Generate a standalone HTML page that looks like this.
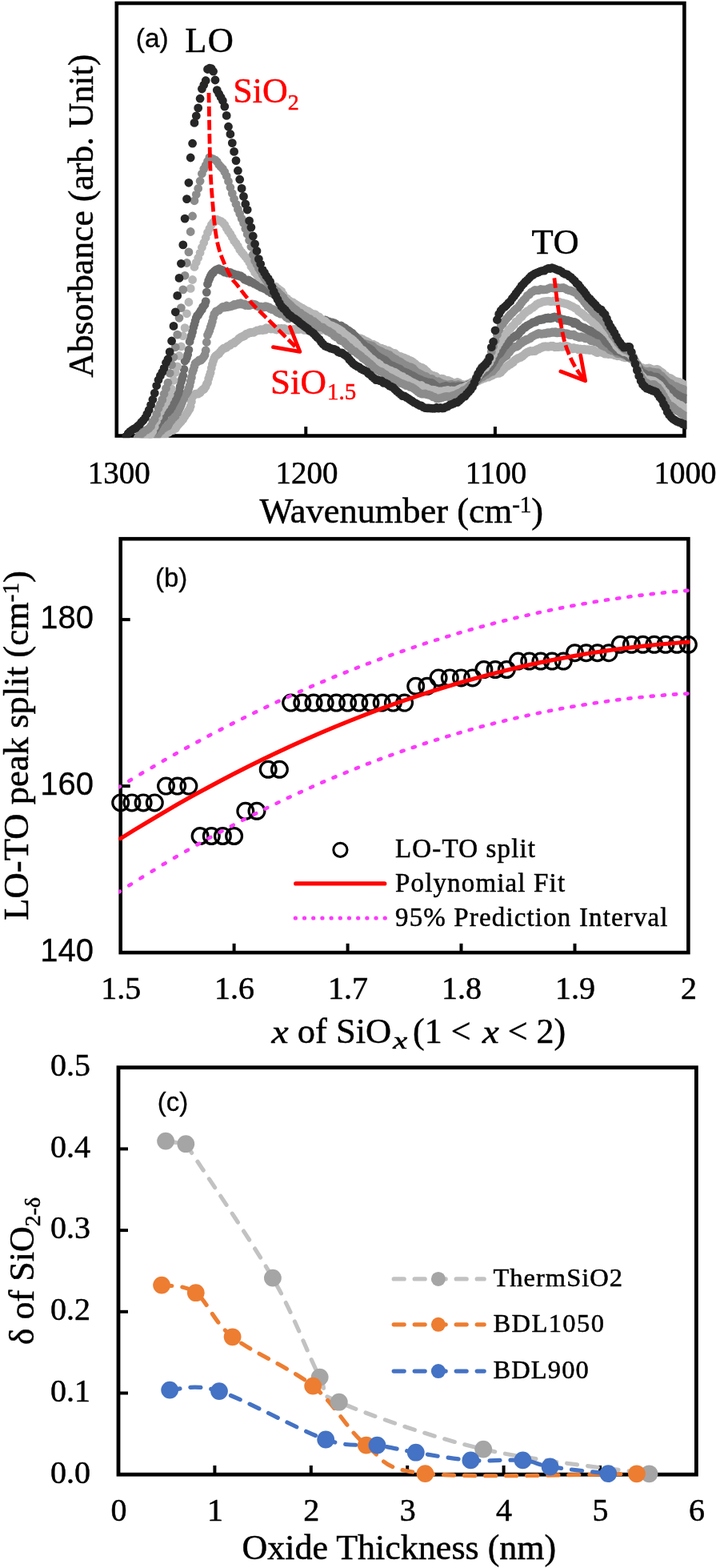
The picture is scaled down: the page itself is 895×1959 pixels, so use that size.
<!DOCTYPE html>
<html lang="en"><head><meta charset="utf-8"><title>FTIR LO-TO analysis of SiOx</title>
<style>html,body{margin:0;padding:0;background:#fff}svg{display:block}text{stroke:#000;stroke-width:.5px;paint-order:stroke fill}text.r{stroke:#f00}text.s{stroke-width:.3px}</style></head><body>
<svg width="895" height="1959" viewBox="0 0 895 1959">
<rect width="895" height="1959" fill="#fff"/>
<g id="panel-a">
<rect x="145.8" y="4.0" width="709.6" height="540.5" fill="none" stroke="#000" stroke-width="4.6"/>
<line x1="382.3" y1="544.5" x2="382.3" y2="533.0" stroke="#000" stroke-width="4"/>
<line x1="618.9" y1="544.5" x2="618.9" y2="533.0" stroke="#000" stroke-width="4"/>
<clipPath id="clipA"><rect x="140" y="0" width="718.6" height="547.2"/></clipPath>
<g clip-path="url(#clipA)" fill="none" stroke-linecap="round" stroke-width="10.8">
<path d="M198 547.9h0M199.2 545.8h0M200.4 544.6h0M201.6 545h0M202.8 544.3h0M203.9 543.6h0M205.1 544.5h0M206.3 543.2h0M207.5 542.4h0M208.7 541.1h0M209.9 540.6h0M211 540.2h0M212.2 539.2h0M213.4 538.1h0M214.6 537.6h0M215.8 537.6h0M217 536.1h0M218.1 535.7h0M219.3 535.5h0M220.5 533.5h0M221.7 531.6h0M222.9 530.4h0M224 528.9h0M225.2 527.9h0M226.4 526.7h0M227.6 525h0M228.8 523.9h0M230 521.5h0M231.1 520.3h0M232.3 518.1h0M233.5 516.6h0M234.7 514.6h0M235.9 512.5h0M237.1 510.9h0M238.2 507.5h0M239.4 501.8h0M240.6 495.9h0M241.8 494.1h0M243 493.3h0M244.1 492.2h0M245.3 492.1h0M246.5 491.8h0M247.7 492.1h0M248.9 491.5h0M250.1 490.7h0M251.2 488.8h0M252.4 487.9h0M253.6 486.5h0M254.8 486.5h0M256 484.5h0M257.2 482.9h0M258.3 479.7h0M259.5 478.1h0M260.7 473.1h0M261.9 469.3h0M263.1 465.6h0M264.3 459.7h0M265.4 455h0M266.6 451h0M267.8 447.5h0M269 445.3h0M270.2 444.1h0M271.3 443.6h0M272.5 442.3h0M273.7 442h0M274.9 440h0M276.1 438.7h0M277.3 437.1h0M278.4 436.3h0M279.6 435.1h0M280.8 435.3h0M282 434.4h0M283.2 434.3h0M284.4 432.6h0M285.5 432.4h0M286.7 431.6h0M287.9 431.1h0M289.1 429.7h0M290.3 429.2h0M291.4 428.6h0M292.6 428.6h0M293.8 426.8h0M295 426.4h0M296.2 425.5h0M297.4 424.5h0M298.5 423h0M299.7 422.5h0M300.9 421.4h0M302.1 420.6h0M303.3 420.6h0M304.5 419.5h0M305.6 419.8h0M306.8 418.3h0M308 417.1h0M309.2 417.1h0M310.4 416.3h0M311.6 415.7h0M312.7 415.9h0M313.9 415.2h0M315.1 415.4h0M316.3 415.4h0M317.5 415.3h0M318.6 414.1h0M319.8 413.8h0M321 413h0M322.2 412.9h0M323.4 412.9h0M324.6 412.2h0M325.7 411.7h0M326.9 412.2h0M328.1 412.6h0M329.3 411.5h0M330.5 411.6h0M331.7 412.1h0M332.8 409.7h0M334 410.8h0M335.2 410.4h0M336.4 410.3h0M337.6 409.7h0M338.7 411h0M339.9 410h0M341.1 410.9h0M342.3 410.9h0M343.5 410.9h0M344.7 411.7h0M345.8 412h0M347 411.1h0M348.2 410.5h0M349.4 410.9h0M350.6 410.6h0M351.8 410.4h0M352.9 410.7h0M354.1 411.9h0M355.3 410.3h0M356.5 411.9h0M357.7 411.6h0M358.9 412.4h0M360 412h0M361.2 412.8h0M362.4 412.2h0M363.6 412.4h0M364.8 412.8h0M365.9 412.1h0M367.1 411.3h0M368.3 412h0M369.5 411.1h0M370.7 410.8h0M371.9 411.4h0M373 411.7h0M374.2 410.8h0M375.4 411h0M376.6 410.8h0M377.8 410.9h0M379 411.8h0M380.1 412.4h0M381.3 412.2h0M382.5 412.3h0M383.7 412.6h0M384.9 411.9h0M386 412h0M387.2 411.8h0M388.4 412.2h0M389.6 412h0M390.8 412.2h0M392 411.9h0M393.1 412.3h0M394.3 412.9h0M395.5 412.3h0M396.7 413.2h0M397.9 413.7h0M399.1 413.3h0M400.2 412.7h0M401.4 412.2h0M402.6 412.3h0M403.8 411.3h0M405 411.7h0M406.2 411.8h0M407.3 412.5h0M408.5 412.6h0M409.7 414.2h0M410.9 414.5h0M412.1 414h0M413.2 416h0M414.4 415.2h0M415.6 415.5h0M416.8 416h0M418 415.6h0M419.2 416h0M420.3 415.9h0M421.5 415.6h0M422.7 416.6h0M423.9 416.8h0M425.1 417h0M426.3 417.6h0M427.4 417.4h0M428.6 417.4h0M429.8 417.9h0M431 418.7h0M432.2 418.1h0M433.3 417.4h0M434.5 418.5h0M435.7 418.9h0M436.9 418.6h0M438.1 420.3h0M439.3 419.8h0M440.4 420.3h0M441.6 420.7h0M442.8 421.3h0M444 421.4h0M445.2 421.9h0M446.4 421.9h0M447.5 422.3h0M448.7 422.5h0M449.9 422.8h0M451.1 422.8h0M452.3 424.2h0M453.5 424h0M454.6 424.8h0M455.8 425.3h0M457 426.6h0M458.2 426.3h0M459.4 427.3h0M460.5 427.6h0M461.7 428.5h0M462.9 429.7h0M464.1 430.2h0M465.3 430.7h0M466.5 430.1h0M467.6 431.4h0M468.8 431.5h0M470 431.9h0M471.2 432.8h0M472.4 433.6h0M473.6 434.4h0M474.7 435.3h0M475.9 436h0M477.1 435.2h0M478.3 436.2h0M479.5 436.9h0M480.6 436.5h0M481.8 437.9h0M483 437.9h0M484.2 438.5h0M485.4 437.9h0M486.6 438.6h0M487.7 439.4h0M488.9 440.7h0M490.1 440.6h0M491.3 441.5h0M492.5 441.6h0M493.7 441.5h0M494.8 442.8h0M496 443.5h0M497.2 444.9h0M498.4 445.5h0M499.6 445.9h0M500.8 445.3h0M501.9 446h0M503.1 446.3h0M504.3 446.8h0M505.5 447.1h0M506.7 448.5h0M507.8 448.8h0M509 448.6h0M510.2 449.3h0M511.4 450.4h0M512.6 450.4h0M513.8 450.9h0M514.9 451.5h0M516.1 452.4h0M517.3 453.9h0M518.5 454.1h0M519.7 455.3h0M520.9 456.3h0M522 457.7h0M523.2 457.6h0M524.4 458.4h0M525.6 459.1h0M526.8 459.6h0M527.9 459.5h0M529.1 460.6h0M530.3 461h0M531.5 462.3h0M532.7 463.7h0M533.9 464.2h0M535 465.8h0M536.2 466.9h0M537.4 467.5h0M538.6 468.8h0M539.8 468.9h0M541 469.8h0M542.1 469.5h0M543.3 469.8h0M544.5 470.1h0M545.7 471.2h0M546.9 472.3h0M548.1 472.9h0M549.2 473.9h0M550.4 473.7h0M551.6 473.2h0M552.8 473.1h0M554 473.5h0M555.1 474.1h0M556.3 475.1h0M557.5 475.1h0M558.7 475.5h0M559.9 475.5h0M561.1 475.7h0M562.2 477.1h0M563.4 476.7h0M564.6 477.8h0M565.8 478h0M567 478.7h0M568.2 479.4h0M569.3 478.3h0M570.5 478.3h0M571.7 477.5h0M572.9 477.8h0M574.1 478.5h0M575.2 479.4h0M576.4 480h0M577.6 480.5h0M578.8 480.5h0M580 481.3h0M581.2 480.8h0M582.3 480.8h0M583.5 480.7h0M584.7 479.6h0M585.9 479.9h0M587.1 478.9h0M588.3 478.5h0M589.4 477.5h0M590.6 477.3h0M591.8 477.4h0M593 477.4h0M594.2 477.1h0M595.4 476.2h0M596.5 476.4h0M597.7 475.9h0M598.9 474.1h0M600.1 474h0M601.3 474.3h0M602.4 473.6h0M603.6 472.9h0M604.8 472.8h0M606 472.4h0M607.2 471.4h0M608.4 470.8h0M609.5 470.1h0M610.7 471.1h0M611.9 469.4h0M613.1 469.9h0M614.3 469h0M615.5 468.9h0M616.6 467.9h0M617.8 466.5h0M619 467.3h0M620.2 466.3h0M621.4 466h0M622.5 466h0M623.7 466.4h0M624.9 465h0M626.1 465.3h0M627.3 463.1h0M628.5 462.5h0M629.6 460.8h0M630.8 460.1h0M632 458.8h0M633.2 458h0M634.4 457.4h0M635.6 456.2h0M636.7 455.5h0M637.9 455.2h0M639.1 454.1h0M640.3 452.9h0M641.5 452.8h0M642.7 450.7h0M643.8 449.7h0M645 449h0M646.2 448.4h0M647.4 447.3h0M648.6 447.1h0M649.7 446.6h0M650.9 446.5h0M652.1 445.2h0M653.3 445h0M654.5 443.7h0M655.7 442.7h0M656.8 441.6h0M658 440.7h0M659.2 440h0M660.4 439.8h0M661.6 438.9h0M662.8 438.5h0M663.9 438.7h0M665.1 438.9h0M666.3 438.3h0M667.5 438.2h0M668.7 438.6h0M669.8 438h0M671 436.7h0M672.2 436.1h0M673.4 436.2h0M674.6 435.2h0M675.8 434.3h0M676.9 434.5h0M678.1 433.9h0M679.3 432.9h0M680.5 433.2h0M681.7 432.6h0M682.9 433.1h0M684 433h0M685.2 433.4h0M686.4 433h0M687.6 432.9h0M688.8 432.1h0M690 432.9h0M691.1 432.2h0M692.3 432.6h0M693.5 433.8h0M694.7 433.3h0M695.9 433.5h0M697 433.5h0M698.2 433.7h0M699.4 432.8h0M700.6 432.6h0M701.8 433.3h0M703 433.3h0M704.1 433.2h0M705.3 432.3h0M706.5 432.3h0M707.7 432.5h0M708.9 432.7h0M710.1 432.8h0M711.2 434.6h0M712.4 435.2h0M713.6 435.4h0M714.8 435h0M716 435.9h0M717.1 434.3h0M718.3 435.3h0M719.5 435.2h0M720.7 435.3h0M721.9 435.4h0M723.1 436.9h0M724.2 436.2h0M725.4 435.9h0M726.6 436.3h0M727.8 436.9h0M729 436.4h0M730.2 436.2h0M731.3 436.8h0M732.5 437.1h0M733.7 436.6h0M734.9 437.1h0M736.1 436.6h0M737.3 437.7h0M738.4 437.4h0M739.6 437.2h0M740.8 437.5h0M742 437.5h0M743.2 438.9h0M744.3 439.3h0M745.5 440.1h0M746.7 440.7h0M747.9 439.6h0M749.1 439.9h0M750.3 439.3h0M751.4 439.2h0M752.6 440.5h0M753.8 440.8h0M755 441.1h0M756.2 442.1h0M757.4 441.8h0M758.5 441.7h0M759.7 441.9h0M760.9 442.6h0M762.1 441.8h0M763.3 441.8h0M764.4 442.6h0M765.6 442h0M766.8 443h0M768 443.8h0M769.2 443.9h0M770.4 444.1h0M771.5 444.8h0M772.7 444h0M773.9 444.4h0M775.1 444.6h0M776.3 445.1h0M777.5 445.3h0M778.6 446.2h0M779.8 446.3h0M781 446.8h0M782.2 446.9h0M783.4 446.3h0M784.6 446h0M785.7 445.9h0M786.9 445.8h0M788.1 448.1h0M789.3 448h0M790.5 448.6h0M791.6 450h0M792.8 450.9h0M794 451.1h0M795.2 453.7h0M796.4 454.6h0M797.6 456h0M798.7 458.1h0M799.9 458.6h0M801.1 459.5h0M802.3 459.4h0M803.5 459.7h0M804.7 460.7h0M805.8 460.7h0M807 460.6h0M808.2 460.6h0M809.4 460.1h0M810.6 460.2h0M811.7 460h0M812.9 460.5h0M814.1 461h0M815.3 461.9h0M816.5 462.5h0M817.7 461.9h0M818.8 461.8h0M820 461.6h0M821.2 461.3h0M822.4 461.6h0M823.6 462.6h0M824.8 463.5h0M825.9 464.6h0M827.1 465h0M828.3 465.9h0M829.5 467.7h0M830.7 468.7h0M831.9 469.1h0M833 470.2h0M834.2 471.3h0M835.4 472.1h0M836.6 472.9h0M837.8 472.3h0M838.9 473h0M840.1 473.9h0M841.3 475h0M842.5 475.3h0M843.7 476.5h0M844.9 476.5h0M846 476.8h0M847.2 476.8h0M848.4 477.6h0M849.6 477.4h0M850.8 478.7h0M852 478.5h0M853.1 479.9h0M854.3 480.4h0M855.5 481.3h0M856.7 480.9h0M857.9 481.5h0" stroke="#b1b1b1"/>
<path d="M190.9 548.5h0M192.1 547.3h0M193.3 546.3h0M194.5 546h0M195.7 544.4h0M196.8 543.6h0M198 541.4h0M199.2 539.6h0M200.4 538.9h0M201.6 538.3h0M202.8 536.6h0M203.9 534.6h0M205.1 534.9h0M206.3 534.1h0M207.5 533.4h0M208.7 532.7h0M209.9 532.3h0M211 529.8h0M212.2 527.6h0M213.4 526.3h0M214.6 524.7h0M215.8 522.4h0M217 522h0M218.1 520.8h0M219.3 519.6h0M220.5 516.9h0M221.7 516h0M222.9 513.3h0M224 511.3h0M225.2 508.7h0M226.4 505.9h0M227.6 502.6h0M228.8 499.8h0M230 497.5h0M231.1 494.6h0M232.3 492.7h0M233.5 490.9h0M234.7 488.7h0M235.9 485.2h0M237.1 481.6h0M238.2 476.6h0M239.4 471.4h0M240.6 465.1h0M241.8 461.8h0M243 457.5h0M244.1 454h0M245.3 453h0M246.5 452.2h0M247.7 451.2h0M248.9 450h0M250.1 450.5h0M251.2 450h0M252.4 448.6h0M253.6 447.2h0M254.8 445.6h0M256 443.4h0M257.2 437.9h0M258.3 427.5h0M259.5 418.6h0M260.7 415.7h0M261.9 413h0M263.1 408.9h0M264.3 405.6h0M265.4 401.8h0M266.6 396.5h0M267.8 392.2h0M269 391h0M270.2 388.9h0M271.3 388.3h0M272.5 388h0M273.7 387.6h0M274.9 386.2h0M276.1 385.2h0M277.3 384.6h0M278.4 383.3h0M279.6 383.4h0M280.8 384.2h0M282 382.7h0M283.2 382h0M284.4 383.6h0M285.5 383.4h0M286.7 383.1h0M287.9 382.7h0M289.1 382.7h0M290.3 382.2h0M291.4 381.2h0M292.6 380.5h0M293.8 381.3h0M295 380.8h0M296.2 380h0M297.4 379.5h0M298.5 380h0M299.7 379.1h0M300.9 378.7h0M302.1 380h0M303.3 380.2h0M304.5 380.5h0M305.6 379.9h0M306.8 381.5h0M308 381.4h0M309.2 381.5h0M310.4 381.3h0M311.6 381.6h0M312.7 381.3h0M313.9 380.3h0M315.1 380h0M316.3 380.1h0M317.5 380.7h0M318.6 380.5h0M319.8 381h0M321 382.3h0M322.2 382.6h0M323.4 383.1h0M324.6 383.1h0M325.7 383.2h0M326.9 383.2h0M328.1 383.7h0M329.3 384h0M330.5 383.6h0M331.7 382.7h0M332.8 383.7h0M334 383.1h0M335.2 383.7h0M336.4 383.9h0M337.6 385.7h0M338.7 385.7h0M339.9 386.7h0M341.1 386.3h0M342.3 387.2h0M343.5 387.6h0M344.7 388.6h0M345.8 389.8h0M347 390.5h0M348.2 390.8h0M349.4 391.2h0M350.6 392.1h0M351.8 392.1h0M352.9 392.3h0M354.1 392.2h0M355.3 393.3h0M356.5 394.6h0M357.7 396.2h0M358.9 396.8h0M360 397.7h0M361.2 398h0M362.4 396.7h0M363.6 396.8h0M364.8 396.6h0M365.9 396.4h0M367.1 397.1h0M368.3 398.3h0M369.5 398.8h0M370.7 400.2h0M371.9 400.9h0M373 401.4h0M374.2 401.2h0M375.4 401.5h0M376.6 401.2h0M377.8 402.3h0M379 402.7h0M380.1 402.5h0M381.3 403.7h0M382.5 402.7h0M383.7 403.8h0M384.9 403.5h0M386 405.5h0M387.2 403.2h0M388.4 403.6h0M389.6 404h0M390.8 404.9h0M392 405.1h0M393.1 405.9h0M394.3 407.1h0M395.5 408.3h0M396.7 408.2h0M397.9 408.5h0M399.1 408.7h0M400.2 407.5h0M401.4 408.6h0M402.6 408.9h0M403.8 409.3h0M405 410h0M406.2 410.4h0M407.3 409.9h0M408.5 410.2h0M409.7 410.9h0M410.9 410.9h0M412.1 410.7h0M413.2 412.7h0M414.4 412.9h0M415.6 413.2h0M416.8 413.1h0M418 413.6h0M419.2 413.7h0M420.3 413.6h0M421.5 413.9h0M422.7 413.9h0M423.9 415.5h0M425.1 415.4h0M426.3 416.1h0M427.4 417.2h0M428.6 418.1h0M429.8 418.4h0M431 419.1h0M432.2 420.7h0M433.3 420.5h0M434.5 420.5h0M435.7 421.5h0M436.9 421.2h0M438.1 422.3h0M439.3 422.9h0M440.4 422.6h0M441.6 423.4h0M442.8 423.6h0M444 424.5h0M445.2 424.7h0M446.4 425.3h0M447.5 425.2h0M448.7 426h0M449.9 426.9h0M451.1 427.2h0M452.3 428.4h0M453.5 428.9h0M454.6 429h0M455.8 429.7h0M457 429.9h0M458.2 430.2h0M459.4 430.3h0M460.5 430.9h0M461.7 431.1h0M462.9 431.3h0M464.1 431.8h0M465.3 432.1h0M466.5 433.2h0M467.6 434.6h0M468.8 436.1h0M470 435.9h0M471.2 437.3h0M472.4 437.1h0M473.6 437.8h0M474.7 438.4h0M475.9 438.7h0M477.1 439.4h0M478.3 440.4h0M479.5 440.8h0M480.6 442h0M481.8 442.5h0M483 442h0M484.2 443.3h0M485.4 444h0M486.6 443.4h0M487.7 445h0M488.9 445.6h0M490.1 446.2h0M491.3 447.7h0M492.5 448h0M493.7 448.5h0M494.8 448.9h0M496 450.2h0M497.2 450.9h0M498.4 451.6h0M499.6 451.7h0M500.8 452.4h0M501.9 453.3h0M503.1 454.3h0M504.3 454.8h0M505.5 455.9h0M506.7 456.6h0M507.8 456.6h0M509 457.7h0M510.2 458.3h0M511.4 458.6h0M512.6 458.6h0M513.8 458.9h0M514.9 459.6h0M516.1 460.1h0M517.3 461.6h0M518.5 462.7h0M519.7 464.1h0M520.9 465.2h0M522 465.7h0M523.2 466.1h0M524.4 467.1h0M525.6 467.4h0M526.8 468.2h0M527.9 468.7h0M529.1 469.8h0M530.3 469.9h0M531.5 470.2h0M532.7 470.5h0M533.9 472.1h0M535 472.3h0M536.2 473h0M537.4 473.5h0M538.6 473.5h0M539.8 473.3h0M541 474.8h0M542.1 475.5h0M543.3 475.8h0M544.5 476.4h0M545.7 477h0M546.9 477.1h0M548.1 476.7h0M549.2 477.8h0M550.4 478h0M551.6 478.9h0M552.8 479.2h0M554 480.2h0M555.1 480h0M556.3 480.1h0M557.5 480.9h0M558.7 481h0M559.9 480.8h0M561.1 481h0M562.2 480.6h0M563.4 480.9h0M564.6 480.2h0M565.8 480.9h0M567 480.8h0M568.2 481.1h0M569.3 481.1h0M570.5 481.9h0M571.7 481.1h0M572.9 480.4h0M574.1 480.8h0M575.2 481.7h0M576.4 481.8h0M577.6 483.2h0M578.8 484h0M580 483.5h0M581.2 482.7h0M582.3 482.2h0M583.5 482h0M584.7 481.7h0M585.9 481h0M587.1 481.2h0M588.3 481.1h0M589.4 480.3h0M590.6 479.6h0M591.8 479.7h0M593 478.2h0M594.2 477.6h0M595.4 475.8h0M596.5 475.2h0M597.7 473.5h0M598.9 473.1h0M600.1 472.1h0M601.3 471.6h0M602.4 471.2h0M603.6 470.7h0M604.8 469.2h0M606 468.8h0M607.2 468.2h0M608.4 467.9h0M609.5 467.1h0M610.7 466h0M611.9 465.7h0M613.1 465h0M614.3 464.3h0M615.5 464.2h0M616.6 462.7h0M617.8 461.3h0M619 460h0M620.2 458.8h0M621.4 456.2h0M622.5 454.6h0M623.7 453.1h0M624.9 451.3h0M626.1 449.9h0M627.3 448.6h0M628.5 448h0M629.6 446.6h0M630.8 445.9h0M632 444.8h0M633.2 444.5h0M634.4 442.3h0M635.6 441h0M636.7 440h0M637.9 438.3h0M639.1 436.5h0M640.3 435.7h0M641.5 434.5h0M642.7 433.4h0M643.8 433.2h0M645 433.3h0M646.2 433h0M647.4 432.3h0M648.6 431.2h0M649.7 429.4h0M650.9 427.8h0M652.1 428.5h0M653.3 427.1h0M654.5 426h0M655.7 426.3h0M656.8 425.5h0M658 424.1h0M659.2 424.4h0M660.4 423.6h0M661.6 423.2h0M662.8 422.6h0M663.9 421.2h0M665.1 420.4h0M666.3 420h0M667.5 419.3h0M668.7 418.6h0M669.8 418.2h0M671 417.9h0M672.2 416.8h0M673.4 416.5h0M674.6 416.8h0M675.8 416.8h0M676.9 417.4h0M678.1 417.1h0M679.3 416.9h0M680.5 416.6h0M681.7 416.9h0M682.9 416.1h0M684 415.9h0M685.2 415.7h0M686.4 416.2h0M687.6 415.6h0M688.8 415.7h0M690 414.8h0M691.1 414.8h0M692.3 415.4h0M693.5 415h0M694.7 414.7h0M695.9 415.9h0M697 415.9h0M698.2 415.3h0M699.4 415.6h0M700.6 415h0M701.8 415.6h0M703 415.7h0M704.1 415.8h0M705.3 416.4h0M706.5 417.2h0M707.7 416.6h0M708.9 416.9h0M710.1 417.1h0M711.2 418.3h0M712.4 417.9h0M713.6 418.5h0M714.8 418.1h0M716 418.4h0M717.1 418h0M718.3 418.9h0M719.5 420.1h0M720.7 420.3h0M721.9 420.8h0M723.1 420.9h0M724.2 421.6h0M725.4 421.2h0M726.6 420.7h0M727.8 421.4h0M729 421.6h0M730.2 421.7h0M731.3 422.8h0M732.5 422.9h0M733.7 422.9h0M734.9 423h0M736.1 423.4h0M737.3 423.6h0M738.4 425.5h0M739.6 425.9h0M740.8 426.1h0M742 426h0M743.2 426.8h0M744.3 426h0M745.5 426.3h0M746.7 427.1h0M747.9 428.5h0M749.1 429.3h0M750.3 430h0M751.4 430.5h0M752.6 431.5h0M753.8 432h0M755 431.9h0M756.2 433.1h0M757.4 432.9h0M758.5 434h0M759.7 434.8h0M760.9 435.7h0M762.1 436.9h0M763.3 437h0M764.4 437.9h0M765.6 437.4h0M766.8 437.6h0M768 437.8h0M769.2 439.7h0M770.4 439.6h0M771.5 441.5h0M772.7 441.6h0M773.9 441.9h0M775.1 441.9h0M776.3 441.5h0M777.5 442.2h0M778.6 442.5h0M779.8 443.2h0M781 443.9h0M782.2 444h0M783.4 444.5h0M784.6 445.1h0M785.7 445.2h0M786.9 446.4h0M788.1 447.3h0M789.3 447.8h0M790.5 448.1h0M791.6 449.4h0M792.8 449.6h0M794 451.4h0M795.2 454.1h0M796.4 455.4h0M797.6 457.5h0M798.7 459.6h0M799.9 460.2h0M801.1 461.8h0M802.3 462.3h0M803.5 463.3h0M804.7 463.6h0M805.8 463.8h0M807 464.7h0M808.2 465.1h0M809.4 464.3h0M810.6 464.7h0M811.7 463.9h0M812.9 464.1h0M814.1 464.7h0M815.3 465h0M816.5 464.9h0M817.7 466h0M818.8 465.4h0M820 465.6h0M821.2 466.6h0M822.4 465.7h0M823.6 467.8h0M824.8 469.3h0M825.9 469.2h0M827.1 469.7h0M828.3 471.5h0M829.5 472.6h0M830.7 473.7h0M831.9 475.2h0M833 475.7h0M834.2 477.1h0M835.4 478h0M836.6 478.9h0M837.8 478.9h0M838.9 479.5h0M840.1 481h0M841.3 481.7h0M842.5 482.4h0M843.7 483h0M844.9 482.6h0M846 483.1h0M847.2 484.1h0M848.4 484.3h0M849.6 484.8h0M850.8 485.2h0M852 486h0M853.1 486.4h0M854.3 486.4h0M855.5 488.1h0M856.7 489.2h0M857.9 489.6h0" stroke="#8b8b8b"/>
<path d="M181.5 549.7h0M182.7 548h0M183.8 546.3h0M185 544.9h0M186.2 543h0M187.4 542.9h0M188.6 542.1h0M189.8 540.7h0M190.9 539.6h0M192.1 538.5h0M193.3 536.4h0M194.5 535.2h0M195.7 532h0M196.8 531.2h0M198 528.6h0M199.2 526.1h0M200.4 525.4h0M201.6 524.9h0M202.8 523.3h0M203.9 522.2h0M205.1 520.7h0M206.3 518.3h0M207.5 516.6h0M208.7 515.8h0M209.9 515h0M211 512.8h0M212.2 512.4h0M213.4 510.2h0M214.6 508.8h0M215.8 505.9h0M217 504h0M218.1 502h0M219.3 499.5h0M220.5 497.3h0M221.7 494h0M222.9 491.4h0M224 487.5h0M225.2 482.7h0M226.4 477.3h0M227.6 473.4h0M228.8 469.2h0M230 461.3h0M231.1 450.9h0M232.3 449.4h0M233.5 446.7h0M234.7 443.1h0M235.9 437.1h0M237.1 426.7h0M238.2 422.3h0M239.4 419h0M240.6 414.6h0M241.8 409h0M243 405.3h0M244.1 401.1h0M245.3 397.1h0M246.5 394.4h0M247.7 393.9h0M248.9 391.5h0M250.1 389.7h0M251.2 387.7h0M252.4 386.8h0M253.6 383.4h0M254.8 382.3h0M256 380.7h0M257.2 376.6h0M258.3 365.1h0M259.5 354.9h0M260.7 350.5h0M261.9 347.9h0M263.1 345h0M264.3 342.9h0M265.4 341.2h0M266.6 340.6h0M267.8 339h0M269 338h0M270.2 337.1h0M271.3 336.7h0M272.5 336.2h0M273.7 335.7h0M274.9 336.3h0M276.1 337.6h0M277.3 337.4h0M278.4 337.6h0M279.6 339.5h0M280.8 340.1h0M282 340h0M283.2 340.3h0M284.4 341.2h0M285.5 340.3h0M286.7 340.4h0M287.9 340.3h0M289.1 341.6h0M290.3 341.7h0M291.4 342.7h0M292.6 342.5h0M293.8 343.2h0M295 344h0M296.2 343.7h0M297.4 343.7h0M298.5 344.7h0M299.7 345.2h0M300.9 344.7h0M302.1 345.9h0M303.3 346.4h0M304.5 348.1h0M305.6 349.1h0M306.8 349.6h0M308 350.1h0M309.2 350.8h0M310.4 349.8h0M311.6 350.5h0M312.7 352.4h0M313.9 352h0M315.1 352.9h0M316.3 353.1h0M317.5 354.4h0M318.6 354.7h0M319.8 355.4h0M321 355.8h0M322.2 356.8h0M323.4 357.2h0M324.6 357.1h0M325.7 358.8h0M326.9 359.3h0M328.1 359.3h0M329.3 360h0M330.5 360.7h0M331.7 361.3h0M332.8 361.4h0M334 362.4h0M335.2 363.7h0M336.4 363.7h0M337.6 364.5h0M338.7 365.9h0M339.9 365.4h0M341.1 366h0M342.3 367.8h0M343.5 367.9h0M344.7 369.8h0M345.8 371.2h0M347 373.4h0M348.2 374.7h0M349.4 375.3h0M350.6 376.6h0M351.8 377.8h0M352.9 378.4h0M354.1 379.2h0M355.3 379.2h0M356.5 380.4h0M357.7 380.8h0M358.9 380.6h0M360 382.4h0M361.2 383.3h0M362.4 383.6h0M363.6 383.8h0M364.8 385.5h0M365.9 385.6h0M367.1 385.3h0M368.3 386h0M369.5 386.2h0M370.7 387.3h0M371.9 387.5h0M373 388.8h0M374.2 389.2h0M375.4 389.5h0M376.6 389.7h0M377.8 390.9h0M379 390.8h0M380.1 391.8h0M381.3 392.4h0M382.5 392.3h0M383.7 393.6h0M384.9 392.9h0M386 393.3h0M387.2 393.1h0M388.4 394h0M389.6 394h0M390.8 395.3h0M392 394.9h0M393.1 395.5h0M394.3 395.2h0M395.5 396.8h0M396.7 396.6h0M397.9 397.4h0M399.1 399.1h0M400.2 399.7h0M401.4 399.6h0M402.6 400.4h0M403.8 400.1h0M405 400.3h0M406.2 399.8h0M407.3 400.1h0M408.5 401.1h0M409.7 401.7h0M410.9 401.6h0M412.1 402.2h0M413.2 403.5h0M414.4 403.2h0M415.6 402.9h0M416.8 403.8h0M418 403.7h0M419.2 404.4h0M420.3 405.2h0M421.5 406.3h0M422.7 407h0M423.9 407.1h0M425.1 407.4h0M426.3 406.8h0M427.4 408.9h0M428.6 408.6h0M429.8 409.5h0M431 409.7h0M432.2 410.7h0M433.3 411.8h0M434.5 412.4h0M435.7 413h0M436.9 413.9h0M438.1 415.9h0M439.3 415.6h0M440.4 416.2h0M441.6 417.9h0M442.8 419.1h0M444 420.1h0M445.2 421.5h0M446.4 422.7h0M447.5 423.6h0M448.7 425h0M449.9 426.1h0M451.1 428.4h0M452.3 429h0M453.5 429.6h0M454.6 430.9h0M455.8 432.4h0M457 432.8h0M458.2 434.2h0M459.4 434h0M460.5 435h0M461.7 435.3h0M462.9 436.7h0M464.1 437.1h0M465.3 438.4h0M466.5 439.9h0M467.6 441.5h0M468.8 442.1h0M470 443.5h0M471.2 444.3h0M472.4 445.1h0M473.6 446.6h0M474.7 446.5h0M475.9 447.9h0M477.1 447.8h0M478.3 448.8h0M479.5 449.4h0M480.6 449.6h0M481.8 450.5h0M483 451.7h0M484.2 452.8h0M485.4 454.6h0M486.6 455h0M487.7 455.7h0M488.9 456.6h0M490.1 457.2h0M491.3 457.1h0M492.5 457.8h0M493.7 459.1h0M494.8 458.8h0M496 459.6h0M497.2 460.3h0M498.4 460.8h0M499.6 460.8h0M500.8 462h0M501.9 463h0M503.1 464h0M504.3 464.5h0M505.5 464.7h0M506.7 465.3h0M507.8 465.8h0M509 466h0M510.2 467.3h0M511.4 467.1h0M512.6 468.5h0M513.8 468.9h0M514.9 469.9h0M516.1 469.5h0M517.3 470.3h0M518.5 471h0M519.7 471.9h0M520.9 472.6h0M522 472.9h0M523.2 473.5h0M524.4 473.9h0M525.6 474.3h0M526.8 475.2h0M527.9 475.6h0M529.1 476.4h0M530.3 476.8h0M531.5 476.6h0M532.7 477.3h0M533.9 478.3h0M535 478.5h0M536.2 477.8h0M537.4 478.5h0M538.6 479h0M539.8 478.3h0M541 479.3h0M542.1 480.8h0M543.3 481h0M544.5 482.5h0M545.7 482.9h0M546.9 483.7h0M548.1 484.4h0M549.2 484.4h0M550.4 484.1h0M551.6 484h0M552.8 483.4h0M554 483.1h0M555.1 483.2h0M556.3 482.7h0M557.5 482.1h0M558.7 482.7h0M559.9 482.8h0M561.1 483.4h0M562.2 484.1h0M563.4 483.7h0M564.6 483.2h0M565.8 483h0M567 482.9h0M568.2 483.1h0M569.3 483.6h0M570.5 483.2h0M571.7 483.9h0M572.9 482.6h0M574.1 482.8h0M575.2 483.1h0M576.4 482.9h0M577.6 482.3h0M578.8 482.5h0M580 483h0M581.2 482.2h0M582.3 482.5h0M583.5 482.3h0M584.7 481.4h0M585.9 480.4h0M587.1 480h0M588.3 480.5h0M589.4 480.6h0M590.6 479.2h0M591.8 479.1h0M593 478.6h0M594.2 475.7h0M595.4 475.1h0M596.5 473.6h0M597.7 471.8h0M598.9 469.7h0M600.1 468.9h0M601.3 466.8h0M602.4 467.2h0M603.6 465.8h0M604.8 465.4h0M606 463.6h0M607.2 463.7h0M608.4 462h0M609.5 461.3h0M610.7 460.3h0M611.9 459.2h0M613.1 457.6h0M614.3 455.9h0M615.5 454.4h0M616.6 452.2h0M617.8 450.8h0M619 447.7h0M620.2 445.7h0M621.4 444.1h0M622.5 443.5h0M623.7 442.4h0M624.9 441.4h0M626.1 439.5h0M627.3 437.7h0M628.5 436h0M629.6 433.8h0M630.8 431.9h0M632 431.6h0M633.2 429.8h0M634.4 428.3h0M635.6 427.4h0M636.7 425.7h0M637.9 424h0M639.1 422.7h0M640.3 422.1h0M641.5 421.3h0M642.7 420.7h0M643.8 419.7h0M645 419.5h0M646.2 419.2h0M647.4 417.9h0M648.6 416.6h0M649.7 415.3h0M650.9 413.3h0M652.1 412.9h0M653.3 411.1h0M654.5 410.2h0M655.7 409h0M656.8 409h0M658 407.6h0M659.2 406.6h0M660.4 406.3h0M661.6 405.5h0M662.8 405h0M663.9 404.3h0M665.1 403.5h0M666.3 402.6h0M667.5 402.7h0M668.7 402.3h0M669.8 402.2h0M671 400.8h0M672.2 400.1h0M673.4 399.7h0M674.6 399.3h0M675.8 399.6h0M676.9 399h0M678.1 399.2h0M679.3 399h0M680.5 397.8h0M681.7 397.6h0M682.9 397.3h0M684 397.8h0M685.2 396.8h0M686.4 397.6h0M687.6 397.9h0M688.8 397.3h0M690 397.4h0M691.1 396.5h0M692.3 396.2h0M693.5 396h0M694.7 396.4h0M695.9 396.5h0M697 396.3h0M698.2 398.2h0M699.4 398.1h0M700.6 398.1h0M701.8 399.6h0M703 400.4h0M704.1 399.2h0M705.3 399.5h0M706.5 399.8h0M707.7 400.4h0M708.9 400.7h0M710.1 400.5h0M711.2 401h0M712.4 401.5h0M713.6 401.4h0M714.8 402.1h0M716 402.5h0M717.1 404.1h0M718.3 402.4h0M719.5 403.4h0M720.7 403.6h0M721.9 405h0M723.1 406h0M724.2 407.2h0M725.4 407.6h0M726.6 408.3h0M727.8 408.7h0M729 409.3h0M730.2 409.4h0M731.3 410.4h0M732.5 410.9h0M733.7 411.8h0M734.9 411.8h0M736.1 413h0M737.3 412.9h0M738.4 413.1h0M739.6 414.4h0M740.8 414.3h0M742 415.3h0M743.2 416.3h0M744.3 416.2h0M745.5 416.8h0M746.7 418.1h0M747.9 418.7h0M749.1 418.4h0M750.3 418.8h0M751.4 419.4h0M752.6 419.9h0M753.8 421h0M755 423h0M756.2 425.3h0M757.4 426.9h0M758.5 427.3h0M759.7 429.2h0M760.9 429.8h0M762.1 430.8h0M763.3 431.9h0M764.4 433.7h0M765.6 434.3h0M766.8 435.4h0M768 436h0M769.2 436.1h0M770.4 438.6h0M771.5 438.6h0M772.7 438.9h0M773.9 439.4h0M775.1 440h0M776.3 440.4h0M777.5 440.2h0M778.6 441.7h0M779.8 441.1h0M781 441.9h0M782.2 442.5h0M783.4 443.9h0M784.6 444.5h0M785.7 446.1h0M786.9 446.1h0M788.1 446.4h0M789.3 446.6h0M790.5 447h0M791.6 448.8h0M792.8 449.3h0M794 451.8h0M795.2 454.4h0M796.4 456.3h0M797.6 459.3h0M798.7 460.4h0M799.9 462.7h0M801.1 464.3h0M802.3 465h0M803.5 465.7h0M804.7 466.7h0M805.8 466.8h0M807 468.2h0M808.2 470.2h0M809.4 469h0M810.6 469.5h0M811.7 469.4h0M812.9 469h0M814.1 470h0M815.3 470.9h0M816.5 470.9h0M817.7 470.8h0M818.8 471.1h0M820 471.1h0M821.2 471.1h0M822.4 472.6h0M823.6 473.7h0M824.8 473.8h0M825.9 474.6h0M827.1 475.9h0M828.3 477.5h0M829.5 478.5h0M830.7 480.3h0M831.9 482.5h0M833 483.2h0M834.2 484.5h0M835.4 485.1h0M836.6 485.3h0M837.8 487.2h0M838.9 487.3h0M840.1 488.1h0M841.3 490h0M842.5 491.4h0M843.7 491.5h0M844.9 492.4h0M846 493h0M847.2 493.7h0M848.4 494.2h0M849.6 495h0M850.8 496h0M852 496.4h0M853.1 496.4h0M854.3 497.3h0M855.5 497.3h0M856.7 497.7h0M857.9 498.7h0" stroke="#6d6d6d"/>
<path d="M179.1 549.2h0M181.5 547h0M183.8 545.4h0M186.2 543.3h0M188.6 542.4h0M190.9 539.2h0M193.3 533.2h0M195.7 526.2h0M198 520.9h0M200.4 514.7h0M202.8 510.1h0M205.1 506.8h0M207.5 502.7h0M209.9 497.6h0M212.2 493.2h0M214.6 486h0M217 475.3h0M219.3 465.5h0M221.7 457.8h0M224 444.5h0M226.4 432.9h0M228.8 419.7h0M231.1 409.6h0M233.5 391.8h0M235.9 377.5h0M238.2 360.4h0M240.6 349.5h0M243 333.4h0M245.3 327.8h0M247.7 322.2h0M250.1 315.7h0M252.4 309.2h0M254.8 303.2h0M257.2 297h0M259.5 290.6h0M261.9 285.6h0M264.3 280.8h0M266.6 277.9h0M269 274.7h0M271.3 274.4h0M273.7 275.5h0M276.1 276.3h0M278.4 278.1h0M280.8 280.8h0M283.2 285.2h0M285.5 288.9h0M287.9 292.2h0M290.3 296.5h0M292.6 300.9h0M295 303.9h0M297.4 307.5h0M299.7 312h0M302.1 315.1h0M304.5 318h0M306.8 320.8h0M309.2 324h0M311.6 327.7h0M313.9 332.9h0M316.3 336.3h0M318.6 340.5h0M321 343.2h0M323.4 345.6h0M325.7 347.3h0M328.1 349.2h0M330.5 350.1h0M332.8 351.7h0M335.2 353.3h0M337.6 355h0M339.9 356.5h0M342.3 357.9h0M344.7 358.2h0M347 360.4h0M349.4 362.1h0M351.8 363.9h0M354.1 367.7h0M356.5 371.6h0M358.9 373.1h0M361.2 375.4h0M363.6 377.3h0M365.9 377.6h0M368.3 379.4h0M370.7 380.9h0M373 382.4h0M375.4 383.7h0M377.8 384.8h0M380.1 386.3h0M382.5 387.9h0M384.9 388.6h0M387.2 390.1h0M389.6 391.6h0M392 392.3h0M394.3 393h0M396.7 395.4h0M399.1 396h0M401.4 398.6h0M403.8 400.2h0M406.2 401.1h0M408.5 403.4h0M410.9 405.3h0M413.2 406.3h0M415.6 407.2h0M418 408.3h0M420.3 409.5h0M422.7 410.8h0M425.1 412.3h0M427.4 413.9h0M429.8 416.4h0M432.2 418.2h0M434.5 419.9h0M436.9 421.9h0M439.3 423.4h0M441.6 425.2h0M444 427.6h0M446.4 430.1h0M448.7 433.1h0M451.1 436.1h0M453.5 437.3h0M455.8 439.7h0M458.2 442.4h0M460.5 444.6h0M462.9 447.1h0M465.3 448.6h0M467.6 450.7h0M470 453h0M472.4 453.7h0M474.7 455.3h0M477.1 457.8h0M479.5 459.7h0M481.8 459.8h0M484.2 461.3h0M486.6 462.6h0M488.9 463.2h0M491.3 464.7h0M493.7 465.2h0M496 466.7h0M498.4 468.3h0M500.8 469.7h0M503.1 470.3h0M505.5 472.3h0M507.8 473.2h0M510.2 474.6h0M512.6 476.2h0M514.9 477.5h0M517.3 478.5h0M519.7 479.6h0M522 481.1h0M524.4 481.7h0M526.8 481.5h0M529.1 483.5h0M531.5 484.3h0M533.9 485h0M536.2 486.1h0M538.6 487.2h0M541 487.1h0M543.3 487.5h0M545.7 488.2h0M548.1 489h0M550.4 488.9h0M552.8 489h0M555.1 488.2h0M557.5 488h0M559.9 487.3h0M562.2 488.2h0M564.6 487.8h0M567 488.2h0M569.3 487.9h0M571.7 487.2h0M574.1 485.9h0M576.4 484.9h0M578.8 484.8h0M581.2 483.4h0M583.5 482.1h0M585.9 481.8h0M588.3 479.8h0M590.6 478.4h0M593 477.4h0M595.4 473.5h0M597.7 469.5h0M600.1 465.6h0M602.4 463h0M604.8 460.5h0M607.2 459.1h0M609.5 455.6h0M611.9 452.9h0M614.3 448.3h0M616.6 443h0M619 437.6h0M621.4 432.7h0M623.7 428.8h0M626.1 425h0M628.5 421h0M630.8 417.6h0M633.2 415.7h0M635.6 412.4h0M637.9 410.5h0M640.3 407.6h0M642.7 405.5h0M645 401.9h0M647.4 401h0M649.7 397.5h0M652.1 395.8h0M654.5 392.6h0M656.8 390.6h0M659.2 388.6h0M661.6 387.5h0M663.9 385.4h0M666.3 384.2h0M668.7 382.3h0M671 380.1h0M673.4 379h0M675.8 378.3h0M678.1 377.2h0M680.5 376.7h0M682.9 376.3h0M685.2 376.1h0M687.6 376.5h0M690 376.6h0M692.3 375.9h0M694.7 376.9h0M697 377.3h0M699.4 377.3h0M701.8 378.4h0M704.1 378.7h0M706.5 379.4h0M708.9 379.9h0M711.2 381h0M713.6 382.1h0M716 383.2h0M718.3 384.6h0M720.7 385.6h0M723.1 388.8h0M725.4 390.3h0M727.8 391.9h0M730.2 394h0M732.5 396.1h0M734.9 396.8h0M737.3 398.9h0M739.6 401h0M742 403.4h0M744.3 404.2h0M746.7 406.6h0M749.1 408.5h0M751.4 409.6h0M753.8 411.5h0M756.2 413.4h0M758.5 415.8h0M760.9 418.2h0M763.3 421.5h0M765.6 424.7h0M768 428.1h0M770.4 432.1h0M772.7 434.5h0M775.1 437.1h0M777.5 438.1h0M779.8 439.7h0M782.2 439.7h0M784.6 441h0M786.9 442h0M789.3 445h0M791.6 447.8h0M794 452.2h0M796.4 458.1h0M798.7 464.4h0M801.1 468.4h0M803.5 470.7h0M805.8 473.2h0M808.2 475h0M810.6 474.7h0M812.9 475.1h0M815.3 475.6h0M817.7 476.2h0M820 477.7h0M822.4 479.3h0M824.8 481.2h0M827.1 484.3h0M829.5 487.7h0M831.9 490.4h0M834.2 494.4h0M836.6 496.2h0M838.9 499.2h0M841.3 500.7h0M843.7 503.1h0M846 503.8h0M848.4 505.7h0M850.8 506.1h0M853.1 507.7h0M855.5 509.3h0M857.9 511.2h0" stroke="#b6b6b6"/>
<path d="M172 547h0M174.4 543h0M176.7 542.3h0M179.1 540.1h0M181.5 537.8h0M183.8 537h0M186.2 535.3h0M188.6 532.4h0M190.9 527h0M193.3 523.6h0M195.7 517.4h0M198 510.3h0M200.4 505h0M202.8 499.4h0M205.1 492.2h0M207.5 485.2h0M209.9 478.2h0M212.2 466.3h0M214.6 455.9h0M217 446.3h0M219.3 433.8h0M221.7 418.1h0M224 397.3h0M226.4 384.6h0M228.8 361.9h0M231.1 344.3h0M233.5 328.5h0M235.9 314.9h0M238.2 289.5h0M240.6 270h0M243 250.8h0M245.3 242.9h0M247.7 235.5h0M250.1 226.2h0M252.4 217h0M254.8 211.1h0M257.2 206.5h0M259.5 201.5h0M261.9 196.6h0M264.3 198h0M266.6 198.7h0M269 199.8h0M271.3 202h0M273.7 205.8h0M276.1 208.5h0M278.4 210.8h0M280.8 214.7h0M283.2 219.9h0M285.5 226.5h0M287.9 234.2h0M290.3 241.6h0M292.6 248.6h0M295 254.9h0M297.4 261.4h0M299.7 267.1h0M302.1 273.1h0M304.5 278.6h0M306.8 285.8h0M309.2 292.4h0M311.6 300.3h0M313.9 308.2h0M316.3 318.1h0M318.6 325.6h0M321 330.3h0M323.4 335.1h0M325.7 338.4h0M328.1 343.3h0M330.5 346.9h0M332.8 350h0M335.2 354h0M337.6 356.5h0M339.9 358.8h0M342.3 360.8h0M344.7 363.1h0M347 364.5h0M349.4 367.2h0M351.8 369.4h0M354.1 371.6h0M356.5 375.2h0M358.9 377.5h0M361.2 379.6h0M363.6 381.7h0M365.9 384.2h0M368.3 386.1h0M370.7 387.8h0M373 389.9h0M375.4 390.8h0M377.8 393.1h0M380.1 394.3h0M382.5 395.8h0M384.9 397.7h0M387.2 398.3h0M389.6 400.9h0M392 401.3h0M394.3 403.4h0M396.7 405.4h0M399.1 407.7h0M401.4 408.6h0M403.8 409.2h0M406.2 411.3h0M408.5 413.1h0M410.9 413.7h0M413.2 415.4h0M415.6 416.9h0M418 419.7h0M420.3 421.1h0M422.7 422.2h0M425.1 425.2h0M427.4 425.9h0M429.8 427.2h0M432.2 429.8h0M434.5 432.3h0M436.9 433.8h0M439.3 436.4h0M441.6 438.5h0M444 439.2h0M446.4 441.5h0M448.7 443.1h0M451.1 444.9h0M453.5 447.4h0M455.8 448.9h0M458.2 450.8h0M460.5 453h0M462.9 454.7h0M465.3 457h0M467.6 459.5h0M470 461.2h0M472.4 462.8h0M474.7 463.9h0M477.1 464.7h0M479.5 466.6h0M481.8 467.8h0M484.2 470h0M486.6 471.2h0M488.9 472.1h0M491.3 473.6h0M493.7 474.9h0M496 476h0M498.4 477.4h0M500.8 478.6h0M503.1 479.3h0M505.5 480.4h0M507.8 481.7h0M510.2 481.9h0M512.6 483.4h0M514.9 484h0M517.3 485.5h0M519.7 487.2h0M522 489.2h0M524.4 491h0M526.8 492h0M529.1 492.1h0M531.5 492h0M533.9 492.9h0M536.2 493.4h0M538.6 494.1h0M541 495.8h0M543.3 496.2h0M545.7 498h0M548.1 497.9h0M550.4 497.4h0M552.8 496.7h0M555.1 495.9h0M557.5 495.3h0M559.9 495.5h0M562.2 495.6h0M564.6 494.7h0M567 494h0M569.3 493.9h0M571.7 491.8h0M574.1 490.8h0M576.4 489.9h0M578.8 488h0M581.2 487.1h0M583.5 485.7h0M585.9 483.6h0M588.3 481.1h0M590.6 479.6h0M593 476h0M595.4 471.3h0M597.7 466.7h0M600.1 462.3h0M602.4 458.7h0M604.8 456.8h0M607.2 454.3h0M609.5 451h0M611.9 446.3h0M614.3 439.5h0M616.6 432.7h0M619 425.5h0M621.4 418.2h0M623.7 412.2h0M626.1 407.3h0M628.5 404.4h0M630.8 401.2h0M633.2 398.2h0M635.6 395.6h0M637.9 392.9h0M640.3 390.7h0M642.7 388.2h0M645 386h0M647.4 384.4h0M649.7 381.4h0M652.1 377.9h0M654.5 375h0M656.8 372.7h0M659.2 369.4h0M661.6 367.9h0M663.9 365.2h0M666.3 364h0M668.7 362.3h0M671 362.6h0M673.4 362.7h0M675.8 361.5h0M678.1 361.9h0M680.5 361.8h0M682.9 361.6h0M685.2 360.6h0M687.6 359.6h0M690 359.7h0M692.3 360.1h0M694.7 359.4h0M697 359.5h0M699.4 359.8h0M701.8 359.7h0M704.1 359.4h0M706.5 360.5h0M708.9 361.9h0M711.2 362.6h0M713.6 363.1h0M716 364.2h0M718.3 365.2h0M720.7 366.5h0M723.1 369.4h0M725.4 371.3h0M727.8 373.7h0M730.2 377h0M732.5 379.8h0M734.9 383.2h0M737.3 385.1h0M739.6 387.5h0M742 390.3h0M744.3 392.4h0M746.7 394.1h0M749.1 396.4h0M751.4 398.5h0M753.8 401.1h0M756.2 403.7h0M758.5 407.5h0M760.9 410.5h0M763.3 414h0M765.6 418.8h0M768 421.5h0M770.4 424.6h0M772.7 428.5h0M775.1 431h0M777.5 433.7h0M779.8 435.8h0M782.2 437.1h0M784.6 438h0M786.9 438.9h0M789.3 441.3h0M791.6 445.8h0M794 453.9h0M796.4 460.6h0M798.7 465.8h0M801.1 470.5h0M803.5 474.2h0M805.8 477.1h0M808.2 478.4h0M810.6 480.1h0M812.9 480.7h0M815.3 480.4h0M817.7 480.5h0M820 482.5h0M822.4 484.1h0M824.8 487.2h0M827.1 490.5h0M829.5 494.6h0M831.9 498.8h0M834.2 502.7h0M836.6 506.2h0M838.9 507.1h0M841.3 508.8h0M843.7 511.1h0M846 513h0M848.4 514.2h0M850.8 516.1h0M853.1 517.7h0M855.5 519.3h0M857.9 520.1h0" stroke="#8c8c8c"/>
<path d="M157.8 544.7h0M160.2 541.5h0M162.6 539.1h0M164.9 537.5h0M167.3 535.9h0M169.7 534.6h0M172 532.5h0M174.4 530.6h0M176.7 527.5h0M179.1 525.1h0M181.5 522h0M183.8 517.3h0M186.2 512.2h0M188.6 505.7h0M190.9 499.2h0M193.3 491.1h0M195.7 481.8h0M198 474.7h0M200.4 469.4h0M202.8 465h0M205.1 459.9h0M207.5 453.3h0M209.9 448.7h0M212.2 439.6h0M214.6 426h0M217 407.4h0M219.3 389.8h0M221.7 369.4h0M224 347.4h0M226.4 329.3h0M228.8 305.9h0M231.1 273.1h0M233.5 248.6h0M235.9 228.3h0M238.2 197h0M240.6 179.2h0M243 153.4h0M245.3 144.8h0M247.7 134.9h0M250.1 123.2h0M252.4 111h0M254.8 106.1h0M257.2 100.7h0M259.5 86.5h0M261.9 85.2h0M264.3 85.7h0M266.6 89.2h0M269 100h0M271.3 112.6h0M273.7 117.2h0M276.1 121.5h0M278.4 125.7h0M280.8 133.1h0M283.2 144.4h0M285.5 158.2h0M287.9 167.5h0M290.3 178.6h0M292.6 189.4h0M295 200.6h0M297.4 213.2h0M299.7 224.2h0M302.1 235.4h0M304.5 245.4h0M306.8 254.9h0M309.2 262h0M311.6 275.8h0M313.9 284.1h0M316.3 295h0M318.6 304.8h0M321 313.5h0M323.4 323.6h0M325.7 329.7h0M328.1 336.8h0M330.5 340.6h0M332.8 344.7h0M335.2 347.7h0M337.6 351.9h0M339.9 358.2h0M342.3 364.4h0M344.7 369.4h0M347 374.1h0M349.4 378.8h0M351.8 382.8h0M354.1 385.1h0M356.5 387.3h0M358.9 390.5h0M361.2 393.1h0M363.6 394.7h0M365.9 396.9h0M368.3 398.1h0M370.7 399.9h0M373 401.6h0M375.4 403.9h0M377.8 405.6h0M380.1 407.5h0M382.5 409.1h0M384.9 410.9h0M387.2 413.4h0M389.6 414.8h0M392 416.6h0M394.3 419.2h0M396.7 421.7h0M399.1 423.8h0M401.4 427.1h0M403.8 429.9h0M406.2 432.2h0M408.5 433.1h0M410.9 434h0M413.2 435.1h0M415.6 435.8h0M418 436.4h0M420.3 437.4h0M422.7 439.7h0M425.1 440.6h0M427.4 440.8h0M429.8 442.8h0M432.2 444.3h0M434.5 446.3h0M436.9 449.4h0M439.3 451.9h0M441.6 454.5h0M444 456.2h0M446.4 457.6h0M448.7 458.6h0M451.1 460.6h0M453.5 461.9h0M455.8 462.9h0M458.2 464.1h0M460.5 466.8h0M462.9 468.3h0M465.3 470.7h0M467.6 472.6h0M470 474.6h0M472.4 474.6h0M474.7 475.7h0M477.1 476h0M479.5 478.4h0M481.8 478.6h0M484.2 479.9h0M486.6 482h0M488.9 482.9h0M491.3 484.1h0M493.7 486.5h0M496 488.7h0M498.4 490.7h0M500.8 492.8h0M503.1 494.6h0M505.5 494.9h0M507.8 496.4h0M510.2 497.8h0M512.6 499.5h0M514.9 500.9h0M517.3 502.7h0M519.7 503.8h0M522 505.2h0M524.4 506.5h0M526.8 507h0M529.1 508.7h0M531.5 509.6h0M533.9 509.9h0M536.2 509.8h0M538.6 510.1h0M541 510.3h0M543.3 510.3h0M545.7 509.2h0M548.1 510.1h0M550.4 509.3h0M552.8 510h0M555.1 509.8h0M557.5 508.4h0M559.9 507.7h0M562.2 506h0M564.6 505.2h0M567 504.2h0M569.3 502.8h0M571.7 502.6h0M574.1 500.8h0M576.4 498.5h0M578.8 496.3h0M581.2 495.1h0M583.5 492.1h0M585.9 489.6h0M588.3 486.9h0M590.6 483.4h0M593 478.1h0M595.4 472.6h0M597.7 467.1h0M600.1 463.1h0M602.4 459.6h0M604.8 457.2h0M607.2 454.9h0M609.5 452h0M611.9 446.7h0M614.3 433.7h0M616.6 427.1h0M619 412.8h0M621.4 399.5h0M623.7 392.4h0M626.1 388.1h0M628.5 385.3h0M630.8 383.5h0M633.2 381.3h0M635.6 378.5h0M637.9 376.5h0M640.3 372.8h0M642.7 370h0M645 366.6h0M647.4 363.5h0M649.7 360.5h0M652.1 356.9h0M654.5 354.5h0M656.8 351.8h0M659.2 349.8h0M661.6 347.2h0M663.9 344.9h0M666.3 343.4h0M668.7 341.8h0M671 340.9h0M673.4 340h0M675.8 338.8h0M678.1 338.3h0M680.5 338.1h0M682.9 336.3h0M685.2 335.3h0M687.6 335.5h0M690 334.6h0M692.3 335.3h0M694.7 336.3h0M697 337.3h0M699.4 338h0M701.8 339.3h0M704.1 341.3h0M706.5 342.4h0M708.9 342.9h0M711.2 344.9h0M713.6 346.3h0M716 348.8h0M718.3 350.8h0M720.7 354h0M723.1 355.7h0M725.4 359.1h0M727.8 361.8h0M730.2 364.5h0M732.5 367.8h0M734.9 371.2h0M737.3 373.4h0M739.6 376.1h0M742 378.5h0M744.3 380.8h0M746.7 383.9h0M749.1 385.9h0M751.4 386.8h0M753.8 390.4h0M756.2 392.8h0M758.5 398.1h0M760.9 403.6h0M763.3 408.4h0M765.6 411.7h0M768 415.8h0M770.4 420.4h0M772.7 425h0M775.1 428.2h0M777.5 431.6h0M779.8 434.1h0M782.2 433.8h0M784.6 433.5h0M786.9 433.5h0M789.3 439.7h0M791.6 447.4h0M794 454.6h0M796.4 462.6h0M798.7 469.8h0M801.1 475.7h0M803.5 480.5h0M805.8 482.9h0M808.2 485.2h0M810.6 485.9h0M812.9 486.9h0M815.3 488h0M817.7 488.6h0M820 489.6h0M822.4 492.8h0M824.8 496.4h0M827.1 499.3h0M829.5 504.9h0M831.9 508.9h0M834.2 514.8h0M836.6 518.4h0M838.9 521.2h0M841.3 523.5h0M843.7 525h0M846 526.4h0M848.4 527.4h0M850.8 528.1h0M853.1 529.8h0M855.5 530.1h0M857.9 531h0" stroke="#262626"/>
</g>
<path d="M261.0 116.0C261.3 130.8 261.9 181.2 262.7 204.5C263.5 227.8 264.9 241.8 266.0 256.0C267.1 270.1 268.1 280.1 269.4 289.4C270.7 298.7 272.0 305.0 273.9 311.7C275.8 318.4 278.0 323.6 280.6 329.6C283.2 335.6 286.9 343.1 289.5 347.5C292.1 351.9 292.1 350.7 296.2 355.8C300.3 360.9 307.3 370.7 314.0 378.1C320.7 385.5 328.9 392.9 336.4 400.4C343.9 407.8 353.0 417.0 358.8 422.8C364.6 428.6 369.0 433.0 371.0 435.0" stroke="#ff0000" stroke-width="4.8" fill="none" stroke-dasharray="12.5 4.5"/>
<path d="M362.6 408.6L374.8 439.4L341.5 433.6" fill="none" stroke="#ff0000" stroke-width="4.8" stroke-linecap="round" stroke-linejoin="round"/>
<path d="M692.9 347.4C693.5 351.9 695.0 365.5 696.2 374.2C697.4 382.9 698.6 391.0 700.2 399.7C701.8 408.4 703.4 418.4 705.6 426.5C707.8 434.6 710.9 442.0 713.6 448.0C716.3 454.0 719.1 458.5 721.7 462.7C724.3 466.9 727.8 471.3 729.0 473.0" stroke="#ff0000" stroke-width="4.8" fill="none" stroke-dasharray="12.5 4.5"/>
<path d="M725.7 444L731.6 475.8L700.9 464.1" fill="none" stroke="#ff0000" stroke-width="4.8" stroke-linecap="round" stroke-linejoin="round"/>
<text class="s" x="169.8" y="59.3" font-family='"Liberation Sans", Arial, Helvetica, sans-serif' font-size="33.5">(a)</text>
<text x="231.3" y="64.7" font-family='"Liberation Serif", "Times New Roman", Times, serif' font-size="44.5" letter-spacing="1.2">LO</text>
<text x="664.5" y="317.2" font-family='"Liberation Serif", "Times New Roman", Times, serif' font-size="44.5" letter-spacing="0.6">TO</text>
<text class="r" x="291.2" y="128" fill="#ff0000" font-family='"Liberation Serif", "Times New Roman", Times, serif' font-size="44">SiO<tspan font-size="28" dy="8.5">2</tspan></text>
<text class="r" x="337.9" y="491.5" fill="#ff0000" font-family='"Liberation Serif", "Times New Roman", Times, serif' font-size="45">SiO<tspan font-size="29" dy="7.2" dx="1">1.5</tspan></text>
<text x="148.7" y="603.5" text-anchor="middle" font-family='"Liberation Serif", "Times New Roman", Times, serif' font-size="39">1300</text>
<text x="383.4" y="603.5" text-anchor="middle" font-family='"Liberation Serif", "Times New Roman", Times, serif' font-size="39">1200</text>
<text x="620" y="603.5" text-anchor="middle" font-family='"Liberation Serif", "Times New Roman", Times, serif' font-size="39">1100</text>
<text x="856.5" y="603.5" text-anchor="middle" font-family='"Liberation Serif", "Times New Roman", Times, serif' font-size="39">1000</text>
<text x="324.5" y="652.7" font-family='"Liberation Serif", "Times New Roman", Times, serif' font-size="44.4">Wavenumber (cm<tspan font-size="29" dy="-12.5">-1</tspan><tspan dy="12.5">)</tspan></text>
<text transform="translate(116.3 269.8) rotate(-90)" text-anchor="middle" font-family='"Liberation Serif", "Times New Roman", Times, serif' font-size="43.7">Absorbance (arb. Unit)</text>
</g>
<g id="panel-b">
<rect x="150.7" y="673.2" width="709.7" height="516.9" fill="none" stroke="#000" stroke-width="4.6"/>
<line x1="292.6" y1="1190.1" x2="292.6" y2="1178.8" stroke="#000" stroke-width="4"/>
<line x1="434.6" y1="1190.1" x2="434.6" y2="1178.8" stroke="#000" stroke-width="4"/>
<line x1="576.5" y1="1190.1" x2="576.5" y2="1178.8" stroke="#000" stroke-width="4"/>
<line x1="718.5" y1="1190.1" x2="718.5" y2="1178.8" stroke="#000" stroke-width="4"/>
<line x1="150.7" y1="982.1" x2="162.7" y2="982.1" stroke="#000" stroke-width="4"/>
<line x1="150.7" y1="774.1" x2="162.7" y2="774.1" stroke="#000" stroke-width="4"/>
<g fill="none" stroke="#000" stroke-width="3.2">
<circle cx="150.7" cy="1002.9" r="9.9"/>
<circle cx="164.9" cy="1002.9" r="9.9"/>
<circle cx="179.1" cy="1002.9" r="9.9"/>
<circle cx="193.3" cy="1002.9" r="9.9"/>
<circle cx="207.5" cy="982.1" r="9.9"/>
<circle cx="221.7" cy="982.1" r="9.9"/>
<circle cx="235.9" cy="982.1" r="9.9"/>
<circle cx="250.1" cy="1044.5" r="9.9"/>
<circle cx="264.3" cy="1044.5" r="9.9"/>
<circle cx="278.4" cy="1044.5" r="9.9"/>
<circle cx="292.6" cy="1044.5" r="9.9"/>
<circle cx="306.8" cy="1013.3" r="9.9"/>
<circle cx="321.0" cy="1013.3" r="9.9"/>
<circle cx="335.2" cy="961.3" r="9.9"/>
<circle cx="349.4" cy="961.3" r="9.9"/>
<circle cx="363.6" cy="878.1" r="9.9"/>
<circle cx="377.8" cy="878.1" r="9.9"/>
<circle cx="392.0" cy="878.1" r="9.9"/>
<circle cx="406.2" cy="878.1" r="9.9"/>
<circle cx="420.4" cy="878.1" r="9.9"/>
<circle cx="434.6" cy="878.1" r="9.9"/>
<circle cx="448.8" cy="878.1" r="9.9"/>
<circle cx="463.0" cy="878.1" r="9.9"/>
<circle cx="477.2" cy="878.1" r="9.9"/>
<circle cx="491.4" cy="878.1" r="9.9"/>
<circle cx="505.6" cy="878.1" r="9.9"/>
<circle cx="519.7" cy="857.3" r="9.9"/>
<circle cx="533.9" cy="857.3" r="9.9"/>
<circle cx="548.1" cy="846.9" r="9.9"/>
<circle cx="562.3" cy="846.9" r="9.9"/>
<circle cx="576.5" cy="846.9" r="9.9"/>
<circle cx="590.7" cy="846.9" r="9.9"/>
<circle cx="604.9" cy="836.5" r="9.9"/>
<circle cx="619.1" cy="836.5" r="9.9"/>
<circle cx="633.3" cy="836.5" r="9.9"/>
<circle cx="647.5" cy="826.1" r="9.9"/>
<circle cx="661.7" cy="826.1" r="9.9"/>
<circle cx="675.9" cy="826.1" r="9.9"/>
<circle cx="690.1" cy="826.1" r="9.9"/>
<circle cx="704.3" cy="826.1" r="9.9"/>
<circle cx="718.5" cy="815.7" r="9.9"/>
<circle cx="732.7" cy="815.7" r="9.9"/>
<circle cx="746.8" cy="815.7" r="9.9"/>
<circle cx="761.0" cy="815.7" r="9.9"/>
<circle cx="775.2" cy="805.3" r="9.9"/>
<circle cx="789.4" cy="805.3" r="9.9"/>
<circle cx="803.6" cy="805.3" r="9.9"/>
<circle cx="817.8" cy="805.3" r="9.9"/>
<circle cx="832.0" cy="805.3" r="9.9"/>
<circle cx="846.2" cy="805.3" r="9.9"/>
<circle cx="860.4" cy="805.3" r="9.9"/>
</g>
<polyline points="150.7,1047.6 168.4,1036.6 186.2,1025.9 203.9,1015.4 221.7,1005.1 239.4,995.1 257.2,985.4 274.9,975.9 292.6,966.6 310.4,957.6 328.1,948.9 345.9,940.4 363.6,932.1 381.4,924.1 399.1,916.3 416.8,908.8 434.6,901.6 452.3,894.6 470.1,887.8 487.8,881.3 505.6,875.0 523.3,869.0 541.0,863.3 558.8,857.8 576.5,852.5 594.3,847.5 612.0,842.7 629.7,838.2 647.5,833.9 665.2,829.9 683.0,826.1 700.7,822.6 718.5,819.4 736.2,816.3 753.9,813.6 771.7,811.0 789.4,808.8 807.2,806.8 824.9,805.0 842.7,803.5 860.4,802.2" fill="none" stroke="#ff0505" stroke-width="5.2" stroke-linecap="round"/>
<clipPath id="clipB"><rect x="148.4" y="670" width="714.3" height="523"/></clipPath>
<path d="M147.1 984.3l2.7 -1.7M161.3 975.7l2.7 -1.7M175.5 967.2l2.7 -1.7M189.7 958.9l2.8 -1.6M203.8 950.7l2.8 -1.6M218.0 942.7l2.8 -1.6M232.2 934.8l2.8 -1.6M246.4 927.1l2.8 -1.5M260.5 919.5l2.8 -1.5M274.7 912.1l2.8 -1.5M288.9 904.9l2.8 -1.5M303.1 897.7l2.9 -1.4M317.3 890.8l2.9 -1.4M331.4 884.0l2.9 -1.4M345.6 877.3l2.9 -1.4M359.8 870.8l2.9 -1.3M374.0 864.4l2.9 -1.3M388.1 858.2l2.9 -1.3M402.3 852.2l2.9 -1.2M416.5 846.2l3.0 -1.2M430.7 840.5l3.0 -1.2M444.9 834.9l3.0 -1.2M459.0 829.4l3.0 -1.1M473.2 824.1l3.0 -1.1M487.4 819.0l3.0 -1.1M501.6 814.0l3.0 -1.0M515.8 809.1l3.0 -1.0M529.9 804.4l3.0 -1.0M544.1 799.9l3.1 -0.9M558.3 795.5l3.1 -0.9M572.5 791.2l3.1 -0.9M586.7 787.1l3.1 -0.9M600.8 783.2l3.1 -0.8M615.0 779.4l3.1 -0.8M629.2 775.8l3.1 -0.8M643.4 772.3l3.1 -0.7M657.6 769.0l3.1 -0.7M671.8 765.8l3.1 -0.7M686.0 762.7l3.1 -0.6M700.1 759.8l3.1 -0.6M714.3 757.1l3.2 -0.6M728.5 754.5l3.2 -0.5M742.7 752.1l3.2 -0.5M756.9 749.8l3.2 -0.5M771.1 747.7l3.2 -0.4M785.3 745.7l3.2 -0.4M799.4 743.9l3.2 -0.3M813.6 742.2l3.2 -0.3M827.8 740.7l3.2 -0.3M842.0 739.3l3.2 -0.2M856.2 738.1l3.2 -0.2" clip-path="url(#clipB)" fill="none" stroke="#fb3bfb" stroke-width="4.6" stroke-linecap="round"/>
<path d="M147.1 1115.4l2.7 -1.7M161.3 1106.3l2.7 -1.7M175.5 1097.4l2.7 -1.7M189.7 1088.7l2.8 -1.6M203.8 1080.1l2.8 -1.6M218.0 1071.7l2.8 -1.6M232.2 1063.5l2.8 -1.6M246.4 1055.4l2.8 -1.5M260.5 1047.5l2.8 -1.5M274.7 1039.8l2.8 -1.5M288.9 1032.2l2.8 -1.5M303.1 1024.8l2.9 -1.4M317.3 1017.6l2.9 -1.4M331.4 1010.5l2.9 -1.4M345.6 1003.7l2.9 -1.4M359.8 996.9l2.9 -1.3M374.0 990.4l2.9 -1.3M388.1 984.0l2.9 -1.3M402.3 977.7l2.9 -1.2M416.5 971.7l3.0 -1.2M430.7 965.8l3.0 -1.2M444.9 960.1l3.0 -1.2M459.0 954.5l3.0 -1.1M473.2 949.1l3.0 -1.1M487.4 943.9l3.0 -1.1M501.6 938.8l3.0 -1.0M515.8 934.0l3.0 -1.0M529.9 929.2l3.0 -1.0M544.1 924.7l3.1 -0.9M558.3 920.3l3.1 -0.9M572.5 916.1l3.1 -0.9M586.7 912.0l3.1 -0.9M600.8 908.1l3.1 -0.8M615.0 904.4l3.1 -0.8M629.2 900.9l3.1 -0.8M643.4 897.5l3.1 -0.7M657.6 894.3l3.1 -0.7M671.8 891.2l3.1 -0.7M686.0 888.3l3.1 -0.6M700.1 885.6l3.1 -0.6M714.3 883.1l3.2 -0.6M728.5 880.7l3.2 -0.5M742.7 878.5l3.2 -0.5M756.9 876.4l3.2 -0.5M771.1 874.5l3.2 -0.4M785.3 872.8l3.2 -0.4M799.4 871.3l3.2 -0.3M813.6 869.9l3.2 -0.3M827.8 868.7l3.2 -0.3M842.0 867.6l3.2 -0.2M856.2 866.8l3.2 -0.2" clip-path="url(#clipB)" fill="none" stroke="#fb3bfb" stroke-width="4.6" stroke-linecap="round"/>
<circle cx="425.4" cy="1061.8" r="8.6" fill="none" stroke="#000" stroke-width="3"/>
<line x1="369.8" y1="1103.9" x2="480.7" y2="1103.9" stroke="#ff0505" stroke-width="5.4" stroke-linecap="round"/>
<line x1="369.3" y1="1147" x2="482" y2="1147" stroke="#fb3bfb" stroke-width="5.2" stroke-linecap="round" stroke-dasharray="0.1 11.09"/>
<text x="494" y="1071.3" font-family='"Liberation Serif", "Times New Roman", Times, serif' font-size="33" letter-spacing="1.15">LO-TO split</text>
<text x="494" y="1114.3" font-family='"Liberation Serif", "Times New Roman", Times, serif' font-size="33" letter-spacing="1.15">Polynomial Fit</text>
<text x="494" y="1157.2" font-family='"Liberation Serif", "Times New Roman", Times, serif' font-size="33" letter-spacing="1.15">95% Prediction Interval</text>
<text class="s" x="194" y="733.2" font-family='"Liberation Sans", Arial, Helvetica, sans-serif' font-size="33">(b)</text>
<text x="117" y="1201.0" text-anchor="end" class="s" font-family='"Liberation Sans", Arial, Helvetica, sans-serif' font-size="40">140</text>
<text x="117" y="992.8" text-anchor="end" class="s" font-family='"Liberation Sans", Arial, Helvetica, sans-serif' font-size="40">160</text>
<text x="117" y="784.8" text-anchor="end" class="s" font-family='"Liberation Sans", Arial, Helvetica, sans-serif' font-size="40">180</text>
<text x="151.2" y="1248.1" text-anchor="middle" font-family='"Liberation Serif", "Times New Roman", Times, serif' font-size="40">1.5</text>
<text x="293.1" y="1248.1" text-anchor="middle" font-family='"Liberation Serif", "Times New Roman", Times, serif' font-size="40">1.6</text>
<text x="435.1" y="1248.1" text-anchor="middle" font-family='"Liberation Serif", "Times New Roman", Times, serif' font-size="40">1.7</text>
<text x="577.0" y="1248.1" text-anchor="middle" font-family='"Liberation Serif", "Times New Roman", Times, serif' font-size="40">1.8</text>
<text x="719.0" y="1248.1" text-anchor="middle" font-family='"Liberation Serif", "Times New Roman", Times, serif' font-size="40">1.9</text>
<text x="860.9" y="1248.1" text-anchor="middle" font-family='"Liberation Serif", "Times New Roman", Times, serif' font-size="40">2</text>
<text transform="translate(339.5 1302.6) scale(1.12 1)" font-family='"Liberation Serif", "Times New Roman", Times, serif' font-style="italic" font-size="42.5">x</text>
<text x="371.8" y="1302.7" font-family='"Liberation Serif", "Times New Roman", Times, serif' font-size="44.5">of SiO</text>
<text transform="translate(491.2 1310.3) scale(1.42 1)" font-family='"Liberation Serif", "Times New Roman", Times, serif' font-style="italic" font-size="28.5">x</text>
<text x="516" y="1302.7" font-family='"Liberation Serif", "Times New Roman", Times, serif' font-size="44">(1 &lt;</text>
<text transform="translate(603 1302.6) scale(1.1 1)" font-family='"Liberation Serif", "Times New Roman", Times, serif' font-style="italic" font-size="42.5">x</text>
<text x="634.7" y="1302.7" font-family='"Liberation Serif", "Times New Roman", Times, serif' font-size="44">&lt; 2)</text>
<text transform="translate(35.2 931.4) rotate(-90)" text-anchor="middle" font-family='"Liberation Serif", "Times New Roman", Times, serif' font-size="44.7">LO-TO peak split (cm<tspan font-size="29" dy="-12.5">-1</tspan><tspan dy="12.5">)</tspan></text>
</g>
<g id="panel-c">
<rect x="148.0" y="1333.7" width="722.4" height="508.5" fill="none" stroke="#000" stroke-width="4.8"/>
<line x1="268.4" y1="1842.2" x2="268.4" y2="1830.9" stroke="#000" stroke-width="4"/>
<line x1="388.8" y1="1842.2" x2="388.8" y2="1830.9" stroke="#000" stroke-width="4"/>
<line x1="509.2" y1="1842.2" x2="509.2" y2="1830.9" stroke="#000" stroke-width="4"/>
<line x1="629.6" y1="1842.2" x2="629.6" y2="1830.9" stroke="#000" stroke-width="4"/>
<line x1="750.0" y1="1842.2" x2="750.0" y2="1830.9" stroke="#000" stroke-width="4"/>
<line x1="148.0" y1="1740.5" x2="160.0" y2="1740.5" stroke="#000" stroke-width="4"/>
<line x1="148.0" y1="1638.8" x2="160.0" y2="1638.8" stroke="#000" stroke-width="4"/>
<line x1="148.0" y1="1537.1" x2="160.0" y2="1537.1" stroke="#000" stroke-width="4"/>
<line x1="148.0" y1="1435.4" x2="160.0" y2="1435.4" stroke="#000" stroke-width="4"/>
<path d="M207.1 1425.6L232.3 1429.2C250.4 1457.1 313.0 1548.0 340.9 1596.6C368.8 1645.2 385.9 1694.8 399.7 1720.6C413.5 1746.4 389.7 1736.7 423.8 1751.7C457.9 1766.7 539.6 1795.7 604.2 1810.6C668.8 1825.5 777.0 1836.2 811.5 1841.3" fill="none" stroke="#c2c2c2" stroke-width="5.2" stroke-linecap="round" stroke-dasharray="13 13"/>
<path d="M202.1 1605.6C209.2 1607.2 230.1 1604.4 244.8 1615.2C259.6 1626.0 266.2 1650.9 290.6 1670.3C315.0 1689.7 363.3 1709.0 391.2 1731.6C419.1 1754.1 434.4 1787.3 457.8 1805.6C481.2 1823.8 475.1 1835.1 531.5 1841.1C587.9 1847.0 751.8 1841.3 795.9 1841.3" fill="none" stroke="#ed7d31" stroke-width="5.2" stroke-linecap="round" stroke-dasharray="13 13"/>
<path d="M212.2 1736.6C222.5 1736.8 241.5 1727.8 274.0 1738.1C306.5 1748.4 374.3 1787.2 407.2 1798.5C440.1 1809.8 452.7 1802.9 471.5 1805.6C490.3 1808.3 500.3 1811.6 519.8 1814.7C539.3 1817.8 566.1 1822.8 588.4 1824.4C610.7 1826.0 637.0 1823.1 653.5 1824.4C670.0 1825.8 669.8 1829.7 687.6 1832.5C705.4 1835.3 748.2 1839.7 760.3 1841.1" fill="none" stroke="#4472c4" stroke-width="5.2" stroke-linecap="round" stroke-dasharray="13 13"/>
<g fill="#a5a5a5"><circle cx="207.1" cy="1425.6" r="10.9"/><circle cx="232.3" cy="1429.2" r="10.9"/><circle cx="340.9" cy="1596.6" r="10.9"/><circle cx="399.7" cy="1720.6" r="10.9"/><circle cx="423.8" cy="1751.7" r="10.9"/><circle cx="604.2" cy="1810.6" r="10.9"/><circle cx="811.5" cy="1841.3" r="10.9"/></g>
<g fill="#ed7d31"><circle cx="202.1" cy="1605.6" r="10.9"/><circle cx="244.8" cy="1615.2" r="10.9"/><circle cx="290.6" cy="1670.3" r="10.9"/><circle cx="391.2" cy="1731.6" r="10.9"/><circle cx="457.8" cy="1805.6" r="10.9"/><circle cx="531.5" cy="1841.1" r="10.9"/><circle cx="795.9" cy="1841.3" r="10.9"/></g>
<g fill="#4472c4"><circle cx="212.2" cy="1736.6" r="10.9"/><circle cx="274" cy="1738.1" r="10.9"/><circle cx="407.2" cy="1798.5" r="10.9"/><circle cx="471.5" cy="1805.6" r="10.9"/><circle cx="519.8" cy="1814.7" r="10.9"/><circle cx="588.4" cy="1824.4" r="10.9"/><circle cx="653.5" cy="1824.4" r="10.9"/><circle cx="687.6" cy="1832.5" r="10.9"/><circle cx="760.3" cy="1841.1" r="10.9"/></g>
<line x1="492.2" y1="1597.9" x2="605.2" y2="1597.9" stroke="#c2c2c2" stroke-width="5.2" stroke-linecap="round" stroke-dasharray="13 13"/>
<circle cx="547.9" cy="1597.9" r="9" fill="#a5a5a5"/>
<text x="616.5" y="1607.1" font-family='"Liberation Serif", "Times New Roman", Times, serif' font-size="32.5" letter-spacing="1.0">ThermSiO2</text>
<line x1="492.2" y1="1654.8" x2="605.2" y2="1654.8" stroke="#ed7d31" stroke-width="5.2" stroke-linecap="round" stroke-dasharray="13 13"/>
<circle cx="547.9" cy="1654.8" r="9" fill="#ed7d31"/>
<text x="616.5" y="1664.0" font-family='"Liberation Serif", "Times New Roman", Times, serif' font-size="32.5" letter-spacing="1.4">BDL1050</text>
<line x1="492.2" y1="1713.1" x2="605.2" y2="1713.1" stroke="#4472c4" stroke-width="5.2" stroke-linecap="round" stroke-dasharray="13 13"/>
<circle cx="547.9" cy="1713.1" r="9" fill="#4472c4"/>
<text x="616.5" y="1722.3" font-family='"Liberation Serif", "Times New Roman", Times, serif' font-size="32.5" letter-spacing="1.1">BDL900</text>
<text class="s" x="196.8" y="1388" font-family='"Liberation Sans", Arial, Helvetica, sans-serif' font-size="33">(c)</text>
<text x="113" y="1852.5" text-anchor="end" font-family='"Liberation Serif", "Times New Roman", Times, serif' font-size="40">0.0</text>
<text x="113" y="1750.8" text-anchor="end" font-family='"Liberation Serif", "Times New Roman", Times, serif' font-size="40">0.1</text>
<text x="113" y="1649.1" text-anchor="end" font-family='"Liberation Serif", "Times New Roman", Times, serif' font-size="40">0.2</text>
<text x="113" y="1547.4" text-anchor="end" font-family='"Liberation Serif", "Times New Roman", Times, serif' font-size="40">0.3</text>
<text x="113" y="1445.7" text-anchor="end" font-family='"Liberation Serif", "Times New Roman", Times, serif' font-size="40">0.4</text>
<text x="113" y="1344.0" text-anchor="end" font-family='"Liberation Serif", "Times New Roman", Times, serif' font-size="40">0.5</text>
<text x="148.5" y="1900.3" text-anchor="middle" font-family='"Liberation Serif", "Times New Roman", Times, serif' font-size="40">0</text>
<text x="268.9" y="1900.3" text-anchor="middle" font-family='"Liberation Serif", "Times New Roman", Times, serif' font-size="40">1</text>
<text x="389.3" y="1900.3" text-anchor="middle" font-family='"Liberation Serif", "Times New Roman", Times, serif' font-size="40">2</text>
<text x="509.7" y="1900.3" text-anchor="middle" font-family='"Liberation Serif", "Times New Roman", Times, serif' font-size="40">3</text>
<text x="630.1" y="1900.3" text-anchor="middle" font-family='"Liberation Serif", "Times New Roman", Times, serif' font-size="40">4</text>
<text x="750.5" y="1900.3" text-anchor="middle" font-family='"Liberation Serif", "Times New Roman", Times, serif' font-size="40">5</text>
<text x="870.9" y="1900.3" text-anchor="middle" font-family='"Liberation Serif", "Times New Roman", Times, serif' font-size="40">6</text>
<text x="302.5" y="1948.4" font-family='"Liberation Serif", "Times New Roman", Times, serif' font-size="44">Oxide Thickness (nm)</text>
<text transform="translate(42 1588) rotate(-90)" text-anchor="middle" font-family='"Liberation Serif", "Times New Roman", Times, serif' font-size="44">δ of SiO<tspan font-size="28" dy="8">2-δ</tspan></text>
</g>
</svg></body></html>
